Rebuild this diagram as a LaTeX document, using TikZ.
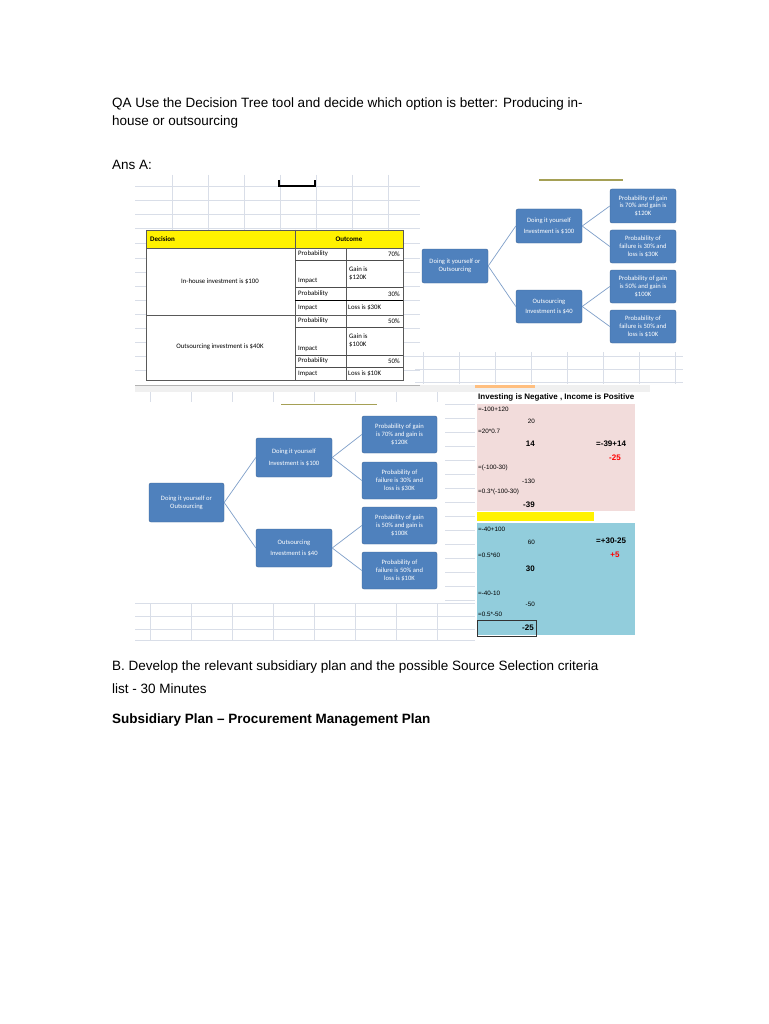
\documentclass[tikz,border=0pt]{standalone}
\usepackage{fontspec}
\setmainfont{Liberation Sans}
\newfontfamily\calfont{Carlito}
\definecolor{tblue}{HTML}{4F81BD}
\definecolor{tedge}{HTML}{7F9FC9}
\definecolor{gridc}{HTML}{D9DEE8}
\definecolor{pinkc}{HTML}{F2DCDB}
\definecolor{bluec}{HTML}{92CDDC}
\definecolor{olive}{HTML}{A5A055}
\tikzset{x=1pt,y=-1pt,
 tbox/.style={draw=tblue!80!black,fill=tblue,rounded corners=2pt,text=white,font=\calfont\fontsize{6.6}{7.6}\selectfont,align=center,inner sep=0pt},
 tlink/.style={draw=tedge,line width=0.7pt},
 body/.style={font=\fontsize{13.5}{16}\selectfont,anchor=west,inner sep=0pt},
 cell/.style={font=\calfont\fontsize{6.8}{8}\selectfont,inner sep=1pt},
 ss/.style={font=\fontsize{6.3}{7}\selectfont,inner sep=0pt},
 ssb/.style={font=\bfseries\fontsize{8}{9}\selectfont,inner sep=0pt},
 gl/.style={draw=gridc,line width=0.5pt}}
\begin{document}
\begin{tikzpicture}
\useasboundingbox[fill=white] (0,0) rectangle (768,1024);
\node[body] (q1) at (112,104) {QA Use the Decision Tree tool and decide which option is better: Producing in-};
\node[body] (q2) at (112,122) {house or outsourcing};
\node[body] (ans) at (112,165) {Ans A:};
% top-left spreadsheet grid
\foreach \y in {186,200,214,228,243,258,272,286,300,314,328,342,356,370} \draw[gl] (135,\y) -- (420,\y);
\foreach \x in {172,208,244,280,316,352,388} \draw[gl] (\x,175) -- (\x,230);
\draw[line width=1.2pt] (279,180) -- (279,186) -- (315,186) -- (315,180);
% table
\fill[yellow] (146,230) rectangle (403,248);
\fill[white] (146,248) rectangle (403,380);
\draw[gray!70!black,line width=0.6pt] (146,230) rectangle (403,380);
\draw[gray!70!black,line width=0.6pt] (146,248) -- (403,248) (295,230) -- (295,380) (146,315) -- (403,315);
\draw[gray!70!black,line width=0.4pt] (346,248) -- (346,380);
\foreach \y in {260,287,300,327,355,367} \draw[gray!60!black,line width=0.4pt] (295,\y) -- (403,\y);
\draw[black,line width=0.7pt] (295,300) -- (403,300);
\node[cell,font=\calfont\bfseries\fontsize{7}{8}\selectfont,anchor=west] (th1) at (149,239.5) {Decision};
\node[cell,font=\calfont\bfseries\fontsize{7}{8}\selectfont] (th2) at (349,239.5) {Outcome};
\node[cell] (d1) at (220,282) {In-house investment is \$100};
\node[cell] (d2) at (220,347) {Outsourcing investment is \$40K};
\foreach \y/\t in {254/Probability,281/Impact,294/Probability,307.5/Impact,321/Probability,349/Impact,361/Probability,373.5/Impact}
  \node[cell,anchor=west] at (297,\y) {\t};
\node[cell,anchor=east] (v1) at (401,254) {70\%};
\node[cell,anchor=west,align=left] (v2) at (348,273.5) {Gain is\\\$120K};
\node[cell,anchor=east] (v3) at (401,294) {30\%};
\node[cell,anchor=west] (v4) at (347,307.5) {Loss is \$30K};
\node[cell,anchor=east] (v5) at (401,321) {50\%};
\node[cell,anchor=west,align=left] (v6) at (348,341) {Gain is\\\$100K};
\node[cell,anchor=east] (v7) at (401,361) {50\%};
\node[cell,anchor=west] (v8) at (347,373.5) {Loss is \$10K};
% top-right tree
\draw[olive,line width=1.5pt] (539,180) -- (623,180);
\foreach \y in {356,369,382} \draw[gl] (415,\y) -- (683,\y);
\foreach \x in {423,459,495,531,567,603,639,675} \draw[gl] (\x,352) -- (\x,384);
\node[tbox,minimum width=66pt,minimum height=34pt] (r1) at (455,266) {Doing it yourself or\\Outsourcing};
\node[tbox,minimum width=66pt,minimum height=34pt] (m1) at (549,226) {Doing it yourself\\[3pt]Investment is \$100};
\node[tbox,minimum width=66pt,minimum height=33pt] (m2) at (549,306.5) {Outsourcing\\[3pt]Investment is \$40};
\node[tbox,minimum width=66pt,minimum height=34pt] (l1) at (643,206) {Probability of gain\\is 70\% and gain is\\\$120K};
\node[tbox,minimum width=66pt,minimum height=33pt] (l2) at (643,246.5) {Probability of\\failure is 30\% and\\loss is \$30K};
\node[tbox,minimum width=66pt,minimum height=33pt] (l3) at (643,286.5) {Probability of gain\\is 50\% and gain is\\\$100K};
\node[tbox,minimum width=66pt,minimum height=33pt] (l4) at (643,326.5) {Probability of\\failure is 50\% and\\loss is \$10K};
\draw[tlink] (r1.east) -- (m1.west) (r1.east) -- (m2.west) (m1.east) -- (l1.west) (m1.east) -- (l2.west) (m2.east) -- (l3.west) (m2.east) -- (l4.west);
% separator bar
\fill[gray!12] (135,385) rectangle (650,392);
\draw[gray!60,line width=0.8pt] (135,385) -- (420,385);
\fill[orange!50] (475,385) rectangle (535,388);
% bottom-left grid
\foreach \y in {404,418,432,446,460,474,488,502,516,530,544,558,572,586,600} \draw[gl] (445,\y) -- (475,\y);
\foreach \y in {603,616,629,640} \draw[gl] (135,\y) -- (475,\y);
\foreach \x in {150,191,232,273,314,355,396,437} \draw[gl] (\x,392) -- (\x,402) (\x,603) -- (\x,640);
\draw[olive,line width=1.8pt] (281,404.5) -- (377,404.5);
\node[tbox,minimum width=75pt,minimum height=39pt] (r2) at (186.5,502.5) {Doing it yourself or\\Outsourcing};
\node[tbox,minimum width=76pt,minimum height=39pt] (n1) at (294,457.5) {Doing it yourself\\[4pt]Investment is \$100};
\node[tbox,minimum width=76pt,minimum height=38pt] (n2) at (294,548) {Outsourcing\\[4pt]Investment is \$40};
\node[tbox,minimum width=75pt,minimum height=37pt] (k1) at (399.5,434.5) {Probability of gain\\is 70\% and gain is\\\$120K};
\node[tbox,minimum width=75pt,minimum height=37pt] (k2) at (399.5,480.5) {Probability of\\failure is 30\% and\\loss is \$30K};
\node[tbox,minimum width=75pt,minimum height=37pt] (k3) at (399.5,525.5) {Probability of gain\\is 50\% and gain is\\\$100K};
\node[tbox,minimum width=75pt,minimum height=37pt] (k4) at (399.5,570.5) {Probability of\\failure is 50\% and\\loss is \$10K};
\draw[tlink] (r2.east) -- (n1.west) (r2.east) -- (n2.west) (n1.east) -- (k1.west) (n1.east) -- (k2.west) (n2.east) -- (k3.west) (n2.east) -- (k4.west);
% right spreadsheet
\fill[pinkc] (477,404) rectangle (635,511);
\fill[yellow] (477,512) rectangle (594,521);
\fill[bluec] (477,523) rectangle (635,635);
\node[ssb,anchor=west] (hd) at (478,397) {Investing is Negative , Income is Positive};
\node[ss,anchor=west] at (478,409) {=-100+120};
\node[ss,anchor=east] at (535,421) {20};
\node[ss,anchor=west] at (478,431) {=20*0.7};
\node[ssb,anchor=east] at (535,444) {14};
\node[ssb,anchor=west] at (596,444) {=-39+14};
\node[ssb,anchor=center,text=red] at (615,458) {-25};
\node[ss,anchor=west] at (478,468) {=(-100-30)};
\node[ss,anchor=east] at (535,481) {-130};
\node[ss,anchor=west] at (478,492) {=0.3*(-100-30)};
\node[ssb,anchor=east] at (535,505) {-39};
\node[ss,anchor=west] at (478,529) {=-40+100};
\node[ss,anchor=east] at (535,542) {60};
\node[ssb,anchor=west] at (596,541) {=+30-25};
\node[ssb,anchor=center,text=red] at (615,555) {+5};
\node[ss,anchor=west] at (478,555) {=0.5*60};
\node[ssb,anchor=east] at (535,569) {30};
\node[ss,anchor=west] at (478,593) {=-40-10};
\node[ss,anchor=east] at (535,604) {-50};
\node[ss,anchor=west] at (478,614) {=0.5*-50};
\draw[black!80,line width=1pt] (477,620) rectangle (536,636);
\node[ssb,anchor=east] at (534,628) {-25};
% bottom text
\node[body] (b1) at (112,667) {B. Develop the relevant subsidiary plan and the possible Source Selection criteria};
\node[body] (b2) at (112,689) {list - 30 Minutes};
\node[body,font=\bfseries\fontsize{13.5}{16}\selectfont] (b3) at (112,720) {Subsidiary Plan – Procurement Management Plan};
\end{tikzpicture}
\end{document}
